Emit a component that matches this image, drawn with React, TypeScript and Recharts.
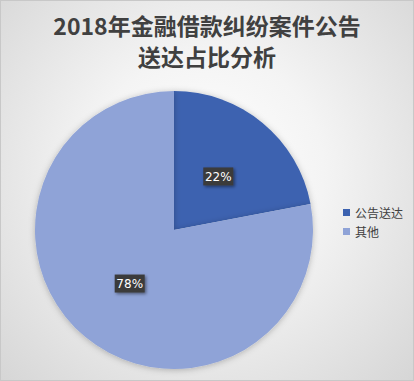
import React from "react"
import { PieChart, Pie, Cell, Legend } from "recharts"

const categories = ["公告送达", "其他"]
const shares = [22, 78]
const colors = ["#3c62b0", "#8fa3d7"]
const titleLines = ["2018年金融借款纠纷案件公告", "送达占比分析"]

const data = categories.map((name, i) => ({ name, value: shares[i] }))

const RAD = Math.PI / 180

function renderLabel(props: any) {
  const { cx, cy, midAngle, outerRadius, value } = props
  const r = outerRadius * 0.5
  const x = cx + r * Math.cos(-midAngle * RAD)
  const y = cy + r * Math.sin(-midAngle * RAD)
  return (
    <g>
      <rect x={x - 15} y={y - 9} width={30} height={18} fill="#3a3a3a" filter="url(#lblShadow)" />
      <text x={x} y={y + 4.5} textAnchor="middle" fill="#ffffff" fontSize={12} fontFamily="DejaVu Sans">
        {value}%
      </text>
    </g>
  )
}

function LegendContent() {
  return (
    <div style={{ fontFamily: "'Noto Sans CJK SC'", fontSize: 12, color: "#404040" }}>
      {data.map((d, i) => (
        <div key={d.name} style={{ display: "flex", alignItems: "center", height: 19 }}>
          <span style={{ width: 7, height: 7, background: colors[i], marginRight: 5 }} />
          {d.name}
        </div>
      ))}
    </div>
  )
}

export default function App() {
  return (
    <div
      style={{
        position: "absolute",
        left: 0,
        top: 0,
        width: 412,
        height: 379,
        border: "1px solid #c8c8c8",
        background: "radial-gradient(ellipse at 50% 45%, #ffffff 0%, #f4f4f4 40%, #d6d6d6 100%)",
        overflow: "hidden",
      }}
    >
      <div
        style={{
          position: "absolute",
          top: 9,
          left: 0,
          width: 412,
          textAlign: "center",
          fontFamily: "'Noto Sans CJK SC'",
          fontWeight: 700,
          fontSize: 23,
          lineHeight: "31px",
          color: "#404040",
        }}
      >
        {titleLines.map((t) => (
          <div key={t}>{t}</div>
        ))}
      </div>
      <PieChart width={412} height={379} style={{ position: "absolute", left: 0, top: 0 }}>
        <defs>
          <filter id="pieShadow" x="-10%" y="-10%" width="120%" height="120%">
            <feDropShadow dx="0" dy="1" stdDeviation="3" floodColor="#000" floodOpacity="0.25" />
          </filter>
          <filter id="lblShadow" x="-30%" y="-30%" width="160%" height="160%">
            <feDropShadow dx="1.5" dy="1.5" stdDeviation="1.5" floodColor="#000" floodOpacity="0.45" />
          </filter>
        </defs>
        <Pie
          data={data}
          dataKey="value"
          nameKey="name"
          cx={168}
          cy={224}
          outerRadius={139}
          startAngle={90}
          endAngle={-270}
          stroke="none"
          label={renderLabel}
          labelLine={false}
          isAnimationActive={false}
          style={{ filter: "url(#pieShadow)" }}
        >
          {data.map((d, i) => (
            <Cell key={d.name} fill={colors[i]} />
          ))}
        </Pie>
        <Legend
          layout="vertical"
          content={<LegendContent />}
          wrapperStyle={{ position: "absolute", left: 342, top: 202, width: 70 }}
        />
      </PieChart>
    </div>
  )
}
